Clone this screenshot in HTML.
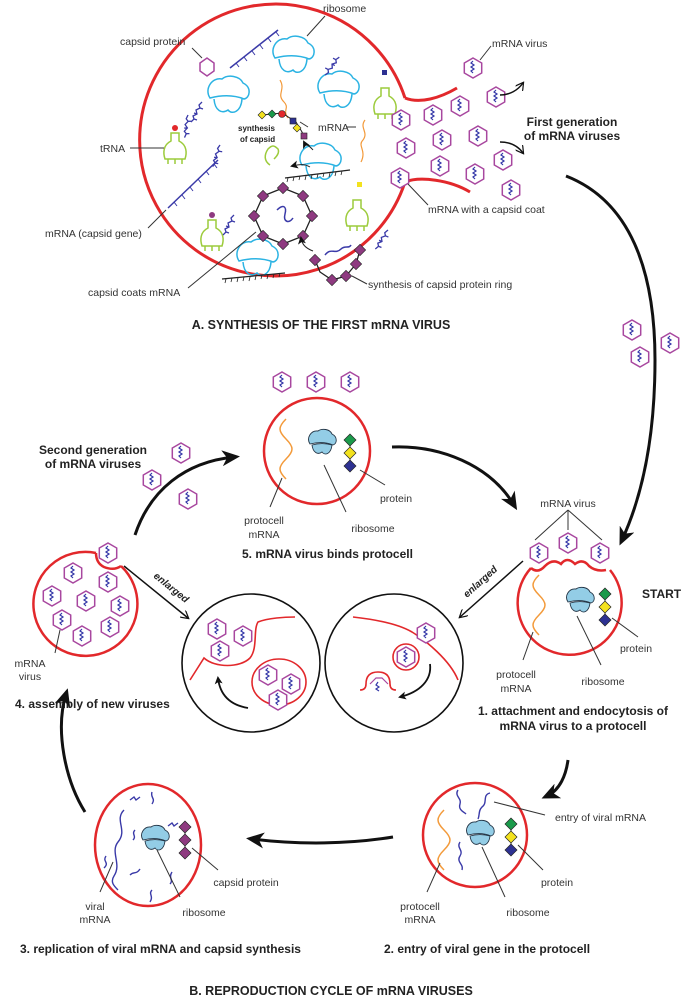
<!DOCTYPE html>
<html><head><meta charset="utf-8"><style>
html,body{margin:0;padding:0;background:#fff}
svg{display:block}
text{font-family:"Liberation Sans",sans-serif;fill:#333}
.b{font-weight:bold;fill:#222}
</style></head><body>
<svg width="685" height="1000" viewBox="0 0 685 1000" xmlns="http://www.w3.org/2000/svg">
<defs>
<g id="v"><polygon points="0,-10 8.7,-5 8.7,5 0,10 -8.7,5 -8.7,-5" fill="#fff" stroke="#a8479f" stroke-width="1.5"/><path d="M0,-7 l-2,2 l3,2 l-3,2 l3,2 l-3,2 l2,2" fill="none" stroke="#3437a8" stroke-width="1.2"/></g>
<g id="r"><path d="M-12,2 C-16,-4 -11,-12 -4,-11 C0,-14 8,-13 10,-8 C16,-5 15,2 11,3 C4,0 -4,0 -12,2 Z" fill="#93cde6" stroke="#234" stroke-width="0.9"/><path d="M-10,3 C-9,11 -4,13 0,10 C3,14 9,12 10,3 C3,1 -3,1 -10,3Z" fill="#93cde6" stroke="#234" stroke-width="0.9"/></g>
<g id="ro"><path d="M-18,3 C-24,-6 -16,-18 -6,-16 C0,-21 12,-19 15,-12 C24,-8 22,3 16,4 C6,0 -6,0 -18,3 Z" fill="none" stroke="#2bb3e3" stroke-width="1.5"/><path d="M-14,4 C-13,16 -6,19 0,15 C4,20 13,17 14,4" fill="none" stroke="#2bb3e3" stroke-width="1.5"/></g>
<g id="p"><line x1="0" y1="-12" x2="0" y2="12" stroke="#333"/><polygon points="0,-19 6,-13 0,-7 -6,-13" fill="#1b9a4b" stroke="#222" stroke-width="0.7"/><polygon points="0,-6 6,0 0,6 -6,0" fill="#f3e21e" stroke="#222" stroke-width="0.7"/><polygon points="0,7 6,13 0,19 -6,13" fill="#2d3192" stroke="#222" stroke-width="0.7"/></g>
<g id="pc"><line x1="0" y1="-12" x2="0" y2="12" stroke="#333"/><polygon points="0,-19 6,-13 0,-7 -6,-13" fill="#8e3a80" stroke="#222" stroke-width="0.7"/><polygon points="0,-6 6,0 0,6 -6,0" fill="#8e3a80" stroke="#222" stroke-width="0.7"/><polygon points="0,7 6,13 0,19 -6,13" fill="#8e3a80" stroke="#222" stroke-width="0.7"/></g>
<path id="om" d="M0,-30 c-8,8 -8,12 0,20 c8,8 8,12 0,20 c-8,8 -8,12 0,20" fill="none" stroke="#f39a3a" stroke-width="1.5"/>
<g id="t" fill="none" stroke="#9ccb3b" stroke-width="1.5"><path d="M-4,-12 v8 c-8,4 -8,12 -6,18 h20 c2,-6 2,-14 -6,-18 v-8 z"/><path d="M-7,14 v5 M0,14 v5 M7,14 v5"/></g>
<path id="bm" d="M0,0 l3,-3 l-1,-3 l4,-2 l-1,-4 l4,-2 l-1,-3 l3,-3 M2,-6 l-3,-1 M5,-12 l3,1 M8,-17 l-3,-1" fill="none" stroke="#3a3aa8" stroke-width="1.3"/>
<marker id="ah" markerWidth="8" markerHeight="8" refX="6" refY="4" orient="auto" markerUnits="userSpaceOnUse"><path d="M0,0 L8,4 L0,8 L2,4Z" fill="#111"/></marker>
<marker id="ab" markerWidth="18" markerHeight="16" refX="12" refY="8" orient="auto" markerUnits="userSpaceOnUse"><path d="M0,0 L18,8 L0,16 L5,8Z" fill="#111"/></marker>
<marker id="as" markerWidth="9" markerHeight="9" refX="7" refY="4.5" orient="auto" markerUnits="userSpaceOnUse"><path d="M0,0 L8,4.5 L0,9" fill="none" stroke="#111" stroke-width="1.2"/></marker>
</defs>

<!-- TOP CELL -->
<path d="M405,98 A136,136 0 1 0 405,182" fill="none" stroke="#e2282b" stroke-width="3"/>
<path d="M405,98 C420,104 440,98 457,88" fill="none" stroke="#e2282b" stroke-width="3"/>
<path d="M405,182 C420,176 450,180 470,192" fill="none" stroke="#e2282b" stroke-width="3"/>
<g>
<use href="#ro" x="293" y="55"/><use href="#ro" x="228" y="95"/><use href="#ro" x="338" y="90"/><use href="#ro" x="320" y="162"/><use href="#ro" x="257" y="258"/>
<use href="#t" x="175" y="145"/><use href="#t" x="212" y="232"/><use href="#t" x="357" y="212"/><use href="#t" x="385" y="100"/>
<path d="M270,165 c-6,-4 -6,-10 -2,-16 c4,-4 6,-4 10,0 c2,4 -2,8 -4,10" fill="none" stroke="#9ccb3b" stroke-width="1.5"/>
<circle cx="175" cy="128" r="3" fill="#e2282b"/><circle cx="212" cy="215" r="3" fill="#8e3a80"/><rect x="382" y="70" width="5" height="5" fill="#2d3192"/><rect x="357" y="182" width="5" height="5" fill="#f3e21e"/>
<polygon points="200,63 207,58 214,63 214,71 207,76 200,71" fill="none" stroke="#a8479f" stroke-width="1.5"/>
<path d="M230,68 L278,30" stroke="#3a3aa8" stroke-width="1.5"/><path d="M236,63 l3,4 M244,57 l3,4 M252,51 l3,4 M260,45 l3,4 M268,38 l3,4 M276,32 l3,4" stroke="#3a3aa8"/>
<path d="M168,208 L218,160" stroke="#3a3aa8" stroke-width="1.5"/><path d="M174,202 l3,4 M182,195 l3,4 M190,187 l3,4 M198,179 l3,4 M206,171 l3,4 M214,164 l3,4" stroke="#3a3aa8"/>
<use href="#bm" x="188" y="115" transform="rotate(160 188 115)"/><use href="#bm" x="220" y="145" transform="rotate(170 220 145)"/><use href="#bm" x="325" y="75" transform="rotate(10 325 75)"/>
<use href="#bm" x="234" y="215" transform="rotate(180 234 215)"/><use href="#bm" x="388" y="230" transform="rotate(185 388 230)"/><use href="#bm" x="202" y="102" transform="rotate(180 202 102)"/>
<path d="M275,35 c6,10 -4,14 4,22 c6,6 -2,8 4,16" fill="none" stroke="#f39a3a" stroke-width="1.2" transform="translate(5,45)"/>
<path d="M365,120 c-6,8 4,12 -2,20 c-6,6 4,10 -2,22" fill="none" stroke="#f39a3a" stroke-width="1.2"/>
<line x1="285" y1="178" x2="350" y2="170" stroke="#222" stroke-width="1.2"/><path d="M288,178 l-1,4 M294,177 l-1,4 M300,176 l-1,4 M306,176 l-1,4 M312,175 l-1,4 M318,174 l-1,4 M324,173 l-1,4 M330,173 l-1,4 M336,172 l-1,4 M342,171 l-1,4" stroke="#222" stroke-width="0.8"/>
<line x1="222" y1="279" x2="285" y2="273" stroke="#222" stroke-width="1.2"/><path d="M226,279 l-1,4 M232,278 l-1,4 M238,278 l-1,4 M244,277 l-1,4 M250,277 l-1,4 M256,276 l-1,4 M262,275 l-1,4 M268,275 l-1,4 M274,274 l-1,4 M280,273 l-1,4" stroke="#222" stroke-width="0.8"/>
<path d="M262,115 L282,113 L296,122 L302,132 L304,137" fill="none" stroke="#222"/>
<polygon points="262,111 266,115 262,119 258,115" fill="#f3e21e" stroke="#222" stroke-width=".6"/><polygon points="272,110 276,114 272,118 268,114" fill="#1b9a4b" stroke="#222" stroke-width=".6"/><circle cx="282" cy="114" r="3.5" fill="#e2282b" stroke="#222" stroke-width=".6"/><rect x="290" y="118" width="6" height="6" fill="#2d3192" stroke="#222" stroke-width=".6"/><polygon points="297,124 301,128 297,132 293,128" fill="#f3e21e" stroke="#222" stroke-width=".6"/><rect x="301" y="133" width="6" height="6" fill="#8e3a80" stroke="#222" stroke-width=".6"/>
<polygon points="283,188 303,196 312,216 303,236 283,244 263,236 254,216 263,196" fill="none" stroke="#222" stroke-width="1.3"/>
<g fill="#8e3a80" stroke="#222" stroke-width=".6"><rect x="279" y="184" width="8" height="8" transform="rotate(45 283 188)"/><rect x="299" y="192" width="8" height="8" transform="rotate(45 303 196)"/><rect x="308" y="212" width="8" height="8" transform="rotate(45 312 216)"/><rect x="299" y="232" width="8" height="8" transform="rotate(45 303 236)"/><rect x="279" y="240" width="8" height="8" transform="rotate(45 283 244)"/><rect x="259" y="232" width="8" height="8" transform="rotate(45 263 236)"/><rect x="250" y="212" width="8" height="8" transform="rotate(45 254 216)"/><rect x="259" y="192" width="8" height="8" transform="rotate(45 263 196)"/></g>
<path d="M277,210 c6,-6 10,-4 8,4 c-2,8 4,10 8,4" fill="none" stroke="#3a3aa8" stroke-width="1.5"/>
<path d="M315,260 L320,272 L332,280 L346,276 L356,264 L360,250" fill="none" stroke="#222" stroke-width="1.3"/>
<g fill="#8e3a80" stroke="#222" stroke-width=".6"><rect x="311" y="256" width="8" height="8" transform="rotate(45 315 260)"/><rect x="328" y="276" width="8" height="8" transform="rotate(45 332 280)"/><rect x="342" y="272" width="8" height="8" transform="rotate(45 346 276)"/><rect x="352" y="260" width="8" height="8" transform="rotate(45 356 264)"/><rect x="356" y="246" width="8" height="8" transform="rotate(45 360 250)"/></g>
<path d="M325,255 c6,-8 10,0 16,-6 c4,-4 8,0 10,-4" fill="none" stroke="#3a3aa8" stroke-width="1.5"/>
<path d="M313,251 C305,248 302,244 301,238" fill="none" stroke="#222" marker-end="url(#ah)"/>
<path d="M310,167 C305,164 300,164 292,166" fill="none" stroke="#222" marker-end="url(#ah)"/>
<path d="M313,150 C310,146 305,144 304,142" fill="none" stroke="#222" marker-end="url(#ah)"/>
</g>
<!-- viruses top -->
<g>
<use href="#v" x="473" y="68"/><use href="#v" x="496" y="97"/><use href="#v" x="460" y="106"/><use href="#v" x="433" y="115"/><use href="#v" x="401" y="120"/><use href="#v" x="442" y="140"/><use href="#v" x="478" y="136"/><use href="#v" x="406" y="148"/><use href="#v" x="440" y="166"/><use href="#v" x="475" y="174"/><use href="#v" x="503" y="160"/><use href="#v" x="511" y="190"/><use href="#v" x="400" y="178"/>
<use href="#v" x="632" y="330"/><use href="#v" x="670" y="343"/><use href="#v" x="640" y="357"/>
</g>
<path d="M500,95 C510,95 518,90 523,83" fill="none" stroke="#111" stroke-width="1.5" marker-end="url(#as)"/>
<path d="M500,142 C510,142 518,146 523,153" fill="none" stroke="#111" stroke-width="1.5" marker-end="url(#as)"/>
<path d="M566,176 C640,205 655,290 655,360 C655,430 645,490 622,540" fill="none" stroke="#111" stroke-width="3" marker-end="url(#ab)"/>
<!-- top labels -->
<g font-size="10.5">
<text x="120" y="45">capsid protein</text><line x1="192" y1="48" x2="202" y2="58" stroke="#333"/>
<text x="323" y="12">ribosome</text><line x1="325" y1="16" x2="307" y2="36" stroke="#333"/>
<text x="100" y="152">tRNA</text><line x1="130" y1="148" x2="164" y2="148" stroke="#333"/>
<text x="45" y="237">mRNA (capsid gene)</text><line x1="148" y1="228" x2="166" y2="210" stroke="#333"/>
<text x="88" y="296">capsid coats mRNA</text><line x1="188" y1="288" x2="256" y2="232" stroke="#333"/>
<text x="318" y="131">mRNA</text><line x1="308" y1="127" x2="300" y2="122" stroke="#333"/><line x1="346" y1="127" x2="356" y2="127" stroke="#333"/>
<text x="492" y="47">mRNA virus</text><line x1="491" y1="46" x2="480" y2="60" stroke="#333"/>
<text x="428" y="213">mRNA with a capsid coat</text><line x1="408" y1="184" x2="428" y2="205" stroke="#333"/>
<text x="368" y="288">synthesis of capsid protein ring</text><line x1="367" y1="284" x2="352" y2="276" stroke="#333"/>
</g>
<text x="238" y="131" font-size="8" class="b">synthesis</text><text x="240" y="142" font-size="8" class="b">of capsid</text>
<text x="572" y="126" font-size="12" class="b" text-anchor="middle">First generation</text>
<text x="572" y="140" font-size="12" class="b" text-anchor="middle">of mRNA viruses</text>
<text x="321" y="329" font-size="12.5" class="b" text-anchor="middle">A. SYNTHESIS OF THE FIRST mRNA VIRUS</text>

<!-- CELL 5 -->
<circle cx="317" cy="451" r="53" fill="none" stroke="#e2282b" stroke-width="2.5"/>
<use href="#v" x="282" y="382"/><use href="#v" x="316" y="382"/><use href="#v" x="350" y="382"/>
<use href="#om" x="286" y="451" transform="translate(0,-2)"/>
<use href="#r" x="322" y="442"/><use href="#p" x="350" y="453"/>
<g font-size="10.5"><line x1="270" y1="507" x2="282" y2="478" stroke="#333"/><line x1="346" y1="512" x2="324" y2="465" stroke="#333"/><line x1="385" y1="485" x2="360" y2="470" stroke="#333"/>
<text x="264" y="524" text-anchor="middle">protocell</text><text x="264" y="538" text-anchor="middle">mRNA</text><text x="373" y="532" text-anchor="middle">ribosome</text><text x="396" y="502" text-anchor="middle">protein</text></g>
<text x="242" y="558" font-size="12" class="b">5. mRNA virus binds protocell</text>
<path d="M392,447 C440,445 490,465 514,505" fill="none" stroke="#111" stroke-width="3" marker-end="url(#ab)"/>

<!-- CELL 1 -->
<path d="M531,568 A52,52 0 1 0 610,570 " fill="none" stroke="#e2282b" stroke-width="2.5"/>
<path d="M531,568 q7,6 14,-2 q8,-8 16,-2 q6,-8 14,0 q8,-6 14,2 q7,6 17,4" fill="none" stroke="#e2282b" stroke-width="2.5"/>
<use href="#v" x="539" y="553"/><use href="#v" x="568" y="543"/><use href="#v" x="600" y="553"/>
<line x1="568" y1="510" x2="535" y2="540" stroke="#333"/><line x1="568" y1="510" x2="568" y2="530" stroke="#333"/><line x1="568" y1="510" x2="602" y2="540" stroke="#333"/>
<text x="568" y="507" font-size="10.5" text-anchor="middle">mRNA virus</text>
<use href="#om" x="539" y="605"/><use href="#r" x="580" y="600"/><use href="#p" x="605" y="607"/>
<g font-size="10.5"><line x1="523" y1="660" x2="533" y2="632" stroke="#333"/><line x1="601" y1="665" x2="577" y2="616" stroke="#333"/><line x1="638" y1="637" x2="612" y2="618" stroke="#333"/>
<text x="516" y="678" text-anchor="middle">protocell</text><text x="516" y="692" text-anchor="middle">mRNA</text><text x="603" y="685" text-anchor="middle">ribosome</text><text x="636" y="652" text-anchor="middle">protein</text></g>
<text x="642" y="598" font-size="12" class="b">START</text>
<text x="573" y="715" font-size="12" class="b" text-anchor="middle">1. attachment and endocytosis of</text>
<text x="573" y="730" font-size="12" class="b" text-anchor="middle">mRNA virus to a protocell</text>

<!-- ENLARGED -->
<circle cx="251" cy="663" r="69" fill="none" stroke="#111" stroke-width="1.6"/>
<circle cx="394" cy="663" r="69" fill="none" stroke="#111" stroke-width="1.6"/>
<path d="M190,680 L204,658 C215,668 240,668 250,658 C258,648 253,630 258,622 C268,618 285,617 295,617" fill="none" stroke="#e2282b" stroke-width="1.6"/>
<ellipse cx="279" cy="682" rx="27" ry="23" fill="none" stroke="#e2282b" stroke-width="1.6"/>
<use href="#v" x="217" y="629"/><use href="#v" x="243" y="636"/><use href="#v" x="220" y="651"/>
<use href="#v" x="268" y="675"/><use href="#v" x="291" y="684"/><use href="#v" x="278" y="700"/>
<path d="M248,708 C230,705 220,695 218,678" fill="none" stroke="#111" stroke-width="1.8" marker-end="url(#ah)"/>
<path d="M353,617 C380,620 400,625 412,632 C425,640 450,660 458,680" fill="none" stroke="#e2282b" stroke-width="1.6"/>
<use href="#v" x="426" y="633"/>
<circle cx="406" cy="657" r="13" fill="none" stroke="#e2282b" stroke-width="1.6"/><use href="#v" x="406" y="657"/>
<path d="M360,690 q6,0 6,-6 q0,-12 12,-12 q12,0 12,12 q0,6 6,6" fill="none" stroke="#e2282b" stroke-width="1.6"/>
<path d="M370,684 l6,-6 l6,0 l6,6" fill="none" stroke="#a8479f" stroke-width="1.2"/>
<path d="M378,682 l-2,3 l3,2 l-3,2 l3,2" fill="none" stroke="#3437a8" stroke-width="1.2"/>
<path d="M430,664 C432,680 420,692 400,697" fill="none" stroke="#111" stroke-width="1.8" marker-end="url(#ah)"/>
<line x1="124" y1="566" x2="188" y2="618" stroke="#111" stroke-width="1.5" marker-end="url(#as)"/>
<text transform="translate(153,577) rotate(39)" font-size="10" font-style="italic" class="b">enlarged</text>
<line x1="523" y1="561" x2="460" y2="617" stroke="#111" stroke-width="1.5" marker-end="url(#as)"/>
<text transform="translate(467,598) rotate(-42)" font-size="10" font-style="italic" class="b">enlarged</text>

<!-- CELL 4 -->
<path d="M96,553 A52,52 0 1 0 121,566" fill="none" stroke="#e2282b" stroke-width="2.5"/>
<path d="M96,553 q0,10 8,14 q10,4 17,-1" fill="none" stroke="#e2282b" stroke-width="2.5"/>
<use href="#v" x="108" y="553"/>
<use href="#v" x="73" y="573"/><use href="#v" x="108" y="582"/><use href="#v" x="52" y="596"/><use href="#v" x="86" y="601"/><use href="#v" x="120" y="606"/><use href="#v" x="62" y="620"/><use href="#v" x="82" y="636"/><use href="#v" x="110" y="627"/>
<line x1="55" y1="653" x2="60" y2="630" stroke="#333"/>
<text x="30" y="667" font-size="10.5" text-anchor="middle">mRNA</text><text x="30" y="680" font-size="10.5" text-anchor="middle">virus</text>
<text x="15" y="708" font-size="12" class="b">4. assembly of new viruses</text>
<text x="93" y="454" font-size="12" class="b" text-anchor="middle">Second generation</text>
<text x="93" y="468" font-size="12" class="b" text-anchor="middle">of mRNA viruses</text>
<use href="#v" x="181" y="453"/><use href="#v" x="152" y="480"/><use href="#v" x="188" y="499"/>
<path d="M135,535 C150,490 185,462 234,457" fill="none" stroke="#111" stroke-width="3" marker-end="url(#ab)"/>

<!-- CELL 2 -->
<circle cx="475" cy="835" r="52" fill="none" stroke="#e2282b" stroke-width="2.5"/>
<use href="#om" x="444" y="840"/>
<path d="M458,790 c-4,6 4,8 2,14 c-2,6 4,8 6,10 M490,793 c-8,2 -2,10 -8,14 c-4,4 -2,8 -4,12 M460,842 c-4,6 4,8 0,14 c-4,6 4,8 2,14" fill="none" stroke="#3a3aa8" stroke-width="1.4"/>
<use href="#r" x="480" y="833"/><use href="#p" x="511" y="837"/>
<g font-size="10.5"><line x1="427" y1="892" x2="440" y2="863" stroke="#333"/><line x1="505" y1="897" x2="482" y2="847" stroke="#333"/><line x1="543" y1="870" x2="518" y2="845" stroke="#333"/><line x1="494" y1="802" x2="545" y2="815" stroke="#333"/>
<text x="420" y="910" text-anchor="middle">protocell</text><text x="420" y="923" text-anchor="middle">mRNA</text><text x="528" y="916" text-anchor="middle">ribosome</text><text x="557" y="886" text-anchor="middle">protein</text><text x="555" y="821">entry of viral mRNA</text></g>
<text x="384" y="953" font-size="12" class="b">2. entry of viral gene in the protocell</text>
<path d="M568,760 C566,775 560,790 547,796" fill="none" stroke="#111" stroke-width="3" marker-end="url(#ab)"/>
<path d="M393,837 C350,844 300,845 252,839" fill="none" stroke="#111" stroke-width="3" marker-end="url(#ab)"/>

<!-- CELL 3 -->
<ellipse cx="148" cy="845" rx="53" ry="61" fill="none" stroke="#e2282b" stroke-width="2.5"/>
<path d="M124,810 c-10,10 4,20 -6,32 c-8,10 4,22 -4,34 c-4,6 0,10 4,14" fill="none" stroke="#3a3aa8" stroke-width="1.4"/>
<path d="M130,800 l4,-3 l2,3 l4,-3 M152,792 c-2,6 4,6 0,12 M168,826 l4,-3 l2,3 l4,-3 M135,830 c-4,4 2,6 -2,10 M106,856 c-4,6 4,6 -2,12 M130,875 c4,-4 6,0 10,-6 M152,890 c-4,4 2,6 -2,12 M172,872 c-4,6 2,8 -2,12" fill="none" stroke="#3a3aa8" stroke-width="1.4"/>
<use href="#r" x="155" y="838"/><use href="#pc" x="185" y="840"/>
<g font-size="10.5"><line x1="100" y1="892" x2="113" y2="862" stroke="#333"/><line x1="180" y1="897" x2="157" y2="850" stroke="#333"/><line x1="218" y1="870" x2="192" y2="848" stroke="#333"/>
<text x="95" y="910" text-anchor="middle">viral</text><text x="95" y="923" text-anchor="middle">mRNA</text><text x="204" y="916" text-anchor="middle">ribosome</text><text x="246" y="886" text-anchor="middle">capsid protein</text></g>
<text x="20" y="953" font-size="12" class="b">3. replication of viral mRNA and capsid synthesis</text>
<path d="M85,812 C65,780 55,730 66,694" fill="none" stroke="#111" stroke-width="3" marker-end="url(#ab)"/>

<text x="331" y="995" font-size="12.5" class="b" text-anchor="middle">B. REPRODUCTION CYCLE OF mRNA VIRUSES</text>
</svg>
</body></html>
